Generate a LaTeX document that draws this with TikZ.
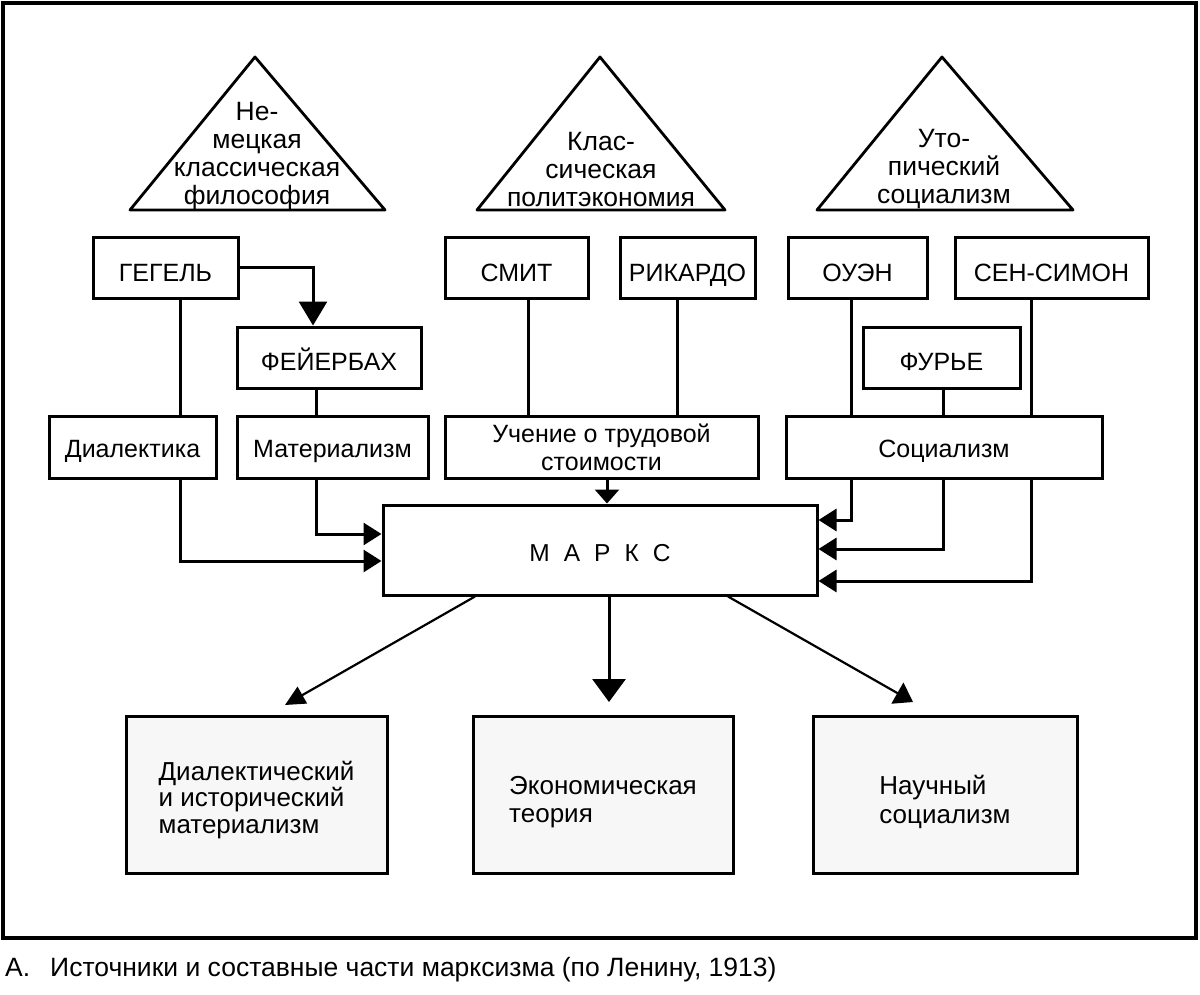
\documentclass[tikz,border=0pt]{standalone}
\usepackage{fontspec}
\setmainfont{Liberation Sans}
\usetikzlibrary{arrows.meta}
\begin{document}
\begin{tikzpicture}[x=1pt,y=-1pt,
  box/.style={draw, line width=3pt, minimum height=60pt, inner sep=0pt,
    font=\fontsize{25}{28}\selectfont, align=center},
  capsbox/.style={box, text height=26pt, text depth=0pt},
  lowbox/.style={box, text height=20pt, text depth=0pt},
  bigbox/.style={draw, line width=3pt, fill=black!3, minimum height=157pt, inner sep=0pt,
    font=\fontsize{26}{27.5}\selectfont, align=left},
  tri/.style={draw, line width=2.8pt, line join=round},
  tritext/.style={inner sep=0pt, font=\fontsize{26.5}{28}\selectfont, align=center},
  conn/.style={line width=3pt},
  tipin/.style={-{Triangle[length=18pt,width=22pt]}},
  diag/.style={line width=2.2pt}
]
\useasboundingbox (0,0) rectangle (1200,995);
\draw[line width=3.5pt] (3,3) rectangle (1196,938);

% triangles
\draw[tri] (255,57) -- (385,210) -- (130,210) -- cycle;
\draw[tri] (600,57) -- (725,210) -- (477,210) -- cycle;
\draw[tri] (942,57) -- (1073,210) -- (817,210) -- cycle;
\node[tritext] (t1) at (257,156) {Не-\\мецкая\\классическая\\философия};
\node[tritext] (t2) at (601,170) {Клас-\\сическая\\политэкономия};
\node[tritext] (t3) at (944,169) {Уто-\\пический\\социализм};

% first row
\node[capsbox, minimum width=145pt] (gegel) at (165.5,268) {ГЕГЕЛЬ};
\node[capsbox, minimum width=143pt] (smit) at (516.5,268) {СМИТ};
\node[capsbox, minimum width=135pt] (rik) at (687.5,268) {РИКАРДО};
\node[capsbox, minimum width=139pt] (ouen) at (857.5,268) {ОУЭН};
\node[capsbox, minimum width=193pt] (sen) at (1051.5,268) {СЕН-СИМОН};

\node[capsbox, minimum width=184pt, minimum height=61pt] (feuer) at (329,357.5) {ФЕЙЕРБАХ};
\node[capsbox, minimum width=157pt, minimum height=61pt] (furie) at (941.5,357.5) {ФУРЬЕ};

% second row
\node[lowbox, minimum width=167pt, minimum height=62pt] (dial) at (132.5,447) {Диалектика};
\node[lowbox, minimum width=191pt, minimum height=62pt] (mat) at (332.5,447) {Материализм};
\node[box, minimum width=313pt, minimum height=62pt] (uch) at (601.5,447) {Учение о трудовой\\стоимости};
\node[lowbox, minimum width=316pt, minimum height=62pt] (soc) at (944,447.5) {Социализм};

% Marx
\node[box, minimum width=434pt, minimum height=90pt, text height=22pt, text depth=0pt,
      font=\fontsize{24.5}{28}\selectfont] (marx) at (600,550)
  {М\hspace{14pt}А\hspace{14pt}Р\hspace{14pt}К\hspace{14pt}С};

% results
\node[bigbox, minimum width=261pt, font=\fontsize{26}{26.5}\selectfont] (r1) at (256.5,794.5)
  {\rule{0pt}{30pt}Диалектический\\и исторический\\материализм};
\node[bigbox, minimum width=260pt] (r2) at (603,794.5) {\rule{0pt}{33pt}Экономическая\\теория};
\node[bigbox, minimum width=264pt, font=\fontsize{26}{29}\selectfont] (r3) at (945,794.5)
  {\rule{0pt}{35pt}Научный\\социализм};

% helper coordinates
\coordinate (xa) at (180,0);
\coordinate (xb) at (316,0);
\coordinate (xg) at (313,0);
\coordinate (xs) at (528,0);
\coordinate (xr) at (677,0);
\coordinate (xu) at (607,0);
\coordinate (xo) at (851,0);
\coordinate (xf) at (943,0);
\coordinate (xc) at (1031,0);
\coordinate (ya) at (0,534);
\coordinate (yb) at (0,561);
\coordinate (yc) at (0,520);
\coordinate (yd) at (0,549);
\coordinate (ye) at (0,581);
\coordinate (e1) at (285,705);
\coordinate (e2) at (609,702);
\coordinate (e3) at (913,702);

% connectors
\draw[conn, -{Triangle[length=24pt,width=28pt]}] (gegel.east) -| (xg |- feuer.north);
\draw[conn] (gegel.south -| xa) -- (dial.north -| xa);
\draw[conn] (feuer.south -| xb) -- (mat.north -| xb);
\draw[conn, tipin] (mat.south -| xb) |- (marx.west |- ya);
\draw[conn, tipin] (dial.south -| xa) |- (marx.west |- yb);

\draw[conn] (smit.south -| xs) -- (uch.north -| xs);
\draw[conn] (rik.south -| xr) -- (uch.north -| xr);
\draw[conn, -{Triangle[length=14pt,width=24pt]}] (uch.south -| xu) -- (marx.north -| xu);

\draw[conn] (ouen.south -| xo) -- (soc.north -| xo);
\draw[conn] (sen.south -| xc) -- (soc.north -| xc);
\draw[conn] (furie.south -| xf) -- (soc.north -| xf);
\draw[conn, tipin] (soc.south -| xo) |- (marx.east |- yc);
\draw[conn, tipin] (soc.south -| xf) |- (marx.east |- yd);
\draw[conn, tipin] (soc.south -| xc) |- (marx.east |- ye);

\draw[diag, -{Triangle[length=20pt,width=19pt]}] ([xshift=-125pt]marx.south) -- (e1);
\draw[conn, -{Triangle[length=23pt,width=33pt]}] ([xshift=9pt]marx.south) -- (e2);
\draw[diag, -{Triangle[length=18pt,width=24pt]}] ([xshift=128pt]marx.south) -- (e3);

% caption
\node[anchor=west, inner sep=0pt, font=\fontsize{26.5}{30}\selectfont] (cap) at (5,970)
  {А.\hspace{20pt}Источники и составные части марксизма (по Ленину, 1913)};
\end{tikzpicture}
\end{document}
